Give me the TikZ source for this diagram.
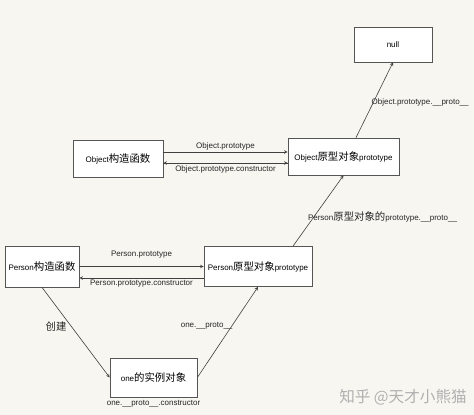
\documentclass[tikz,border=0pt]{standalone}
\usepackage{fontspec}
\setmainfont{Liberation Sans}
\newfontfamily\cjk[Scale=1.3]{Noto Sans CJK SC}
\newcommand{\zh}[1]{{\cjk #1}}
\usetikzlibrary{positioning}
\definecolor{paper}{HTML}{F8F6F0}
\definecolor{edge}{HTML}{555555}
\definecolor{wline}{HTML}{404040}
\definecolor{mark}{HTML}{B0B0B0}

\tikzset{
    box/.style={draw=edge,fill=white,line width=0.7pt,inner sep=0pt,font=\fontsize{8}{9.5}\selectfont},
    lbl/.style={inner sep=2pt,text=black!85,font=\fontsize{8}{9.5}\selectfont},
    link/.style={-stealth,wline,line width=0.6pt}
}

\begin{document}
\begin{tikzpicture}[x=1pt,y=-1pt]
    \fill[paper] (0,0) rectangle (474,415);

    % boxes
    \node[box,minimum width=78pt,minimum height=35pt] (null) at (393,44.5) {null};
    \node[box,minimum width=90pt,minimum height=37pt] (objfun) at (118,158.5) {Object\zh{构造函数}};
    \node[box,minimum width=111pt,minimum height=37pt] (objproto) at (343.5,156.5) {Object\zh{原型对象}prototype};
    \node[box,minimum width=74pt,minimum height=41pt] (perfun) at (42,266.5) {Person\zh{构造函数}};
    \node[box,minimum width=108pt,minimum height=40pt] (perproto) at (258,266.5) {Person\zh{原型对象}prototype};
    \node[box,minimum width=87pt,minimum height=39pt] (one) at (153.5,377.5) {one\zh{的实例对象}};

    % connectors Object <-> Object prototype
    \draw[link] ([yshift=6.5pt]objfun.east) coordinate (objA) -- (objA -| objproto.west)
        node[lbl,midway,above] {Object.prototype};
    \draw[link] ([yshift=-4.5pt]objfun.east) coordinate (objB) -- (objB -| objproto.west);
    \draw[link] (objB -| objproto.west) -- (objB)
        node[lbl,midway,below] {Object.prototype.constructor};

    % connectors Person <-> Person prototype
    \draw[link] (perfun.east) -- (perproto.west)
        node[lbl,midway,above,yshift=6pt] {Person.prototype};
    \draw[link] ([yshift=-11.5pt]perproto.west) coordinate (perB) -- (perB -| perfun.east)
        node[lbl,midway,below] {Person.prototype.constructor};

    % prototype chain
    \draw[link] ([xshift=12.5pt]objproto.north) -- (null.south)
        node[lbl,pos=0.47,anchor=west,xshift=-4pt] {Object.prototype.\_\_proto\_\_};
    \draw[link] ([xshift=35pt]perproto.north) -- (objproto.south)
        node[lbl,pos=0.41,anchor=west,xshift=-8pt] {Person\zh{原型对象的}prototype.\_\_proto\_\_};

    % instance
    \draw[link] (perfun.south) -- (one.west)
        node[lbl,pos=0.44,anchor=east,xshift=-3pt] {\zh{创建}};
    \draw[link] (one.east) -- (perproto.south)
        node[lbl,pos=0.567,anchor=east,xshift=3pt] {one.\_\_proto\_\_};
    \node[lbl,below=1pt of one] (oneconstr) {one.\_\_proto\_\_.constructor};

    % watermark
    \node[text=mark,font=\cjk\fontsize{12}{14}\selectfont] (wmark) at (403,397) {知乎 @天才小熊猫};
\end{tikzpicture}
\end{document}
